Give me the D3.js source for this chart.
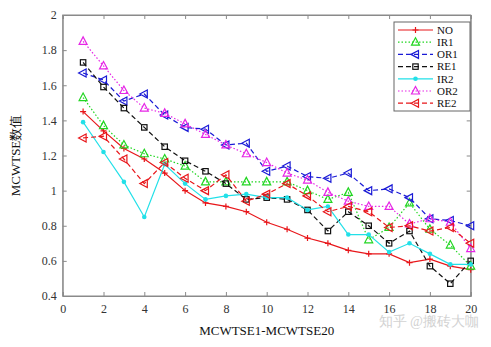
<!DOCTYPE html>
<html><head><meta charset="utf-8">
<script src="https://cdn.jsdelivr.net/npm/d3@7"></script>
<style>
body{margin:0;background:#fff;}
svg{display:block;}
text{font-family:"Liberation Serif","Times New Roman",serif;}
</style></head>
<body>
<svg id="chart" width="491" height="347"></svg>
<script>
const xValues = d3.range(1, 21);
const seriesNames = ["NO","IR1","OR1","RE1","IR2","OR2","RE2"];
const NO  = [1.45,1.34,1.24,1.18,1.10,1.00,0.93,0.91,0.88,0.82,0.78,0.73,0.70,0.66,0.64,0.64,0.59,0.61,0.57,0.55];
const IR1 = [1.53,1.37,1.26,1.21,1.18,1.14,1.05,1.05,1.05,1.05,1.05,1.00,0.95,0.99,0.72,0.79,0.93,0.78,0.69,0.57];
const OR1 = [1.67,1.63,1.51,1.55,1.43,1.36,1.35,1.26,1.27,1.11,1.14,1.08,1.07,1.10,1.00,1.01,0.96,0.84,0.83,0.80];
const RE1 = [1.73,1.59,1.47,1.36,1.25,1.17,1.11,1.04,0.95,0.96,0.95,0.89,0.77,0.88,0.80,0.70,0.77,0.57,0.47,0.60];
const IR2 = [1.39,1.22,1.05,0.85,1.15,1.04,0.95,0.97,0.98,0.96,0.96,0.89,0.91,0.75,0.75,0.65,0.70,0.64,0.58,0.58];
const OR2 = [1.85,1.71,1.57,1.47,1.44,1.38,1.32,1.26,1.21,1.16,1.10,1.06,0.99,0.94,0.91,0.91,0.81,0.84,0.82,0.67];
const RE2 = [1.30,1.31,1.18,1.04,1.16,1.07,1.00,1.09,0.94,0.98,1.04,0.97,0.88,0.91,0.88,0.79,0.80,0.77,0.79,0.70];
const xTicks = [0,2,4,6,8,10,12,14,16,18,20];
const yTicks = [0.4,0.6,0.8,1,1.2,1.4,1.6,1.8,2];
const xLabel = "MCWTSE1-MCWTSE20";
const yLabel = "MCWTSE数值";
const watermark = "知乎 @搬砖大咖";

const seriesValues = {NO, IR1, OR1, RE1, IR2, OR2, RE2};
const styles = {
  NO:  {color:"#e8161a", dash:null,   marker:"plus"},
  IR1: {color:"#22d622", dash:"1.5,2", marker:"triUp"},
  OR1: {color:"#1a1ad6", dash:"5,3",  marker:"triLeft"},
  RE1: {color:"#111111", dash:"5,3",  marker:"square"},
  IR2: {color:"#22e0e8", dash:null,   marker:"dot"},
  OR2: {color:"#e626e6", dash:"1.5,2", marker:"triUp"},
  RE2: {color:"#e8161a", dash:"5,3",  marker:"triLeft"}
};

const svg = d3.select("#chart");
const L = 62.7, R = 470.7, T = 15, B = 296;
const x = d3.scaleLinear().domain([0,20]).range([L,R]);
const y = d3.scaleLinear().domain([0.4,2]).range([B,T]);
const axisColor = "#8a8a8a";

svg.append("rect").attr("x",L).attr("y",T).attr("width",R-L).attr("height",B-T)
  .attr("fill","none").attr("stroke",axisColor).attr("stroke-width",1);

const gx = svg.append("g").attr("transform",`translate(0,${B})`)
  .call(d3.axisBottom(x).tickValues(xTicks).tickSize(-4).tickPadding(8).tickFormat(d3.format("d")));
const gxTop = svg.append("g").attr("transform",`translate(0,${T})`)
  .call(d3.axisTop(x).tickValues(xTicks).tickSize(-4).tickFormat(""));
const gy = svg.append("g").attr("transform",`translate(${L},0)`)
  .call(d3.axisLeft(y).tickValues(yTicks).tickSize(-4).tickPadding(6).tickFormat(d=>String(+d.toFixed(1))));
const gyR = svg.append("g").attr("transform",`translate(${R},0)`)
  .call(d3.axisRight(y).tickValues(yTicks).tickSize(-4).tickFormat(""));
[gx,gxTop,gy,gyR].forEach(g=>{
  g.select(".domain").attr("stroke",axisColor);
  g.selectAll(".tick line").attr("stroke",axisColor);
  g.selectAll("text").attr("fill","#333").attr("font-size",12)
    .attr("font-family",'"Liberation Serif","Times New Roman",serif');
});

const line = d3.line().x((d,i)=>x(xValues[i])).y(d=>y(d));
function drawMarker(g, type, cx, cy, color){
  if(type==="plus"){
    g.append("path").attr("d",`M${cx-3},${cy}H${cx+3}M${cx},${cy-3}V${cy+3}`)
      .attr("stroke",color).attr("stroke-width",1.2).attr("fill","none");
  } else if(type==="triUp"){
    g.append("path").attr("d",`M${cx},${cy-4.5}L${cx+4},${cy+3}L${cx-4},${cy+3}Z`)
      .attr("stroke",color).attr("stroke-width",1.2).attr("fill","none");
  } else if(type==="triLeft"){
    g.append("path").attr("d",`M${cx-4.5},${cy}L${cx+3},${cy-4}L${cx+3},${cy+4}Z`)
      .attr("stroke",color).attr("stroke-width",1.2).attr("fill","none");
  } else if(type==="square"){
    g.append("rect").attr("x",cx-2.7).attr("y",cy-2.7).attr("width",5.4).attr("height",5.4)
      .attr("stroke",color).attr("stroke-width",1.2).attr("fill","none");
  } else if(type==="dot"){
    g.append("circle").attr("cx",cx).attr("cy",cy).attr("r",2.3).attr("fill",color);
  }
}
const plot = svg.append("g");
seriesNames.forEach(name=>{
  const st = styles[name];
  const vals = seriesValues[name];
  plot.append("path").datum(vals).attr("d",line).attr("fill","none")
    .attr("stroke",st.color).attr("stroke-width",1.2)
    .attr("stroke-dasharray",st.dash);
  const mg = plot.append("g");
  vals.forEach((v,i)=>drawMarker(mg, st.marker, x(xValues[i]), y(v), st.color));
});

const lg = svg.append("g");
lg.append("rect").attr("x",394).attr("y",22).attr("width",76).attr("height",89)
  .attr("fill","#fff").attr("stroke","#666").attr("stroke-width",1);
seriesNames.forEach((name,i)=>{
  const st = styles[name];
  const ly = 30 + i*12.2;
  lg.append("line").attr("x1",398).attr("x2",433).attr("y1",ly).attr("y2",ly)
    .attr("stroke",st.color).attr("stroke-width",1.2).attr("stroke-dasharray",st.dash);
  drawMarker(lg, st.marker, 415.5, ly, st.color);
  lg.append("text").attr("x",437).attr("y",ly).attr("dy","0.35em")
    .attr("font-size",11).attr("fill","#111").text(name);
});

svg.append("text").attr("x",(L+R)/2).attr("y",335).attr("text-anchor","middle")
  .attr("font-size",13).attr("fill","#111").text(xLabel);
svg.append("text").attr("transform",`translate(20,${(T+B)/2}) rotate(-90)`)
  .attr("text-anchor","middle").attr("font-size",13).attr("fill","#111")
  .attr("font-family",'"Liberation Serif","Noto Sans CJK SC",serif').text(yLabel);

svg.append("text").attr("x",479).attr("y",326).attr("text-anchor","end")
  .attr("font-size",14).attr("fill","#d2d2d2")
  .attr("font-family",'"Noto Sans CJK SC",sans-serif').text(watermark);
</script>
</body></html>
